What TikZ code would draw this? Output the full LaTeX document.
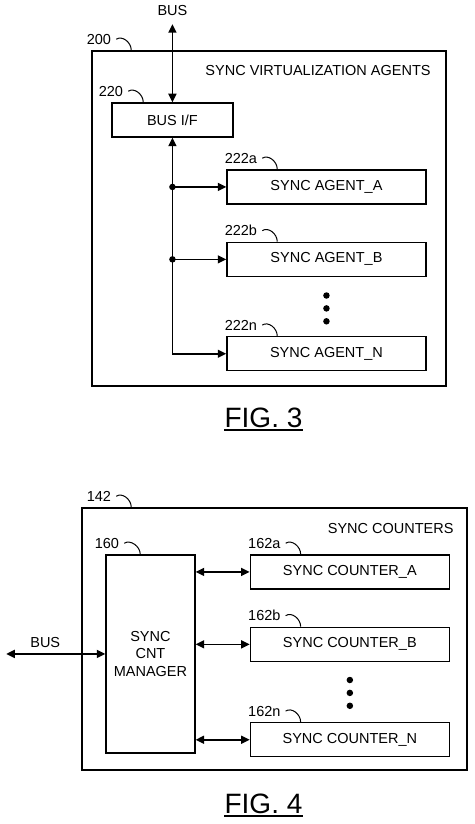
\documentclass[tikz,border=0pt]{standalone}
\usepackage{fontspec}
\setmainfont{Liberation Sans}
\usetikzlibrary{
  positioning,
  arrows.meta
}

\begin{document}
\begin{tikzpicture}[
  x=1pt, y=-1pt,
  every node/.style={font=\fontsize{14.5}{17.5}\selectfont, inner sep=0pt},
  frame/.style={draw, line width=1.5pt},
  block/.style={draw, line width=1.4pt, minimum width=199pt, minimum height=34pt, align=center},
  refnum/.style={anchor=east},
  leader/.style={line width=1pt},
  dot/.style={circle, fill, minimum size=6.5pt},
  fig/.style={font=\fontsize{28}{34}\selectfont},
  arrow/.style={-{Triangle[length=8.5pt,width=8pt]}, line width=1.5pt},
  dbl/.style={{Triangle[length=8.5pt,width=8pt]}-{Triangle[length=8.5pt,width=8pt]}, line width=1.5pt}
]
\useasboundingbox (0,0) rectangle (474,824);

% FIG. 3 frame
\node[frame, minimum width=354pt, minimum height=335pt] (frame3) at (269,218.5) {};
\node[below left=15pt and 16pt of frame3.north east] (title3) {SYNC VIRTUALIZATION AGENTS};

% Bus interface and agents
\node[block, minimum width=121pt, anchor=north west] (busif) at ([xshift=20pt, yshift=-52pt]frame3.north west) {BUS I/F};
\node[block, anchor=north west] (agentA) at ([xshift=135pt, yshift=-119pt]frame3.north west) {SYNC AGENT\_A};
\node[block, below=37pt of agentA] (agentB) {SYNC AGENT\_B};
\node[block, below=59pt of agentB] (agentN) {SYNC AGENT\_N};

% More agents
\node[dot, below=15pt of agentB.south] (more3a) {};
\node[dot, below=6pt of more3a] (more3b) {};
\node[dot, below=6pt of more3b] (more3c) {};

% External bus
\coordinate (bustop) at ([yshift=78pt]busif.north);
\node[above=8pt of bustop] (bus3) {BUS};
\draw[dbl] (bustop) -- (busif.north);

% Internal bus
\draw[dbl] (agentN.west) -| (busif.south);
\node[dot] (jA) at (busif.south |- agentA.west) {};
\node[dot] (jB) at (busif.south |- agentB.west) {};
\draw[arrow] (jA.center) -- (agentA.west);
\draw[arrow] (jB.center) -- (agentB.west);

% Reference numerals
\coordinate (e200) at ([xshift=40pt]frame3.north west);
\node[refnum] (t200) at ([xshift=-20pt, yshift=11pt]e200) {200};
\draw[leader] ([xshift=5pt]t200.east) .. controls +(6,-4) and +(0,-8) .. (e200);
\coordinate (e220) at ([xshift=32pt]busif.north west);
\node[refnum] (t220) at ([xshift=-20pt, yshift=11pt]e220) {220};
\draw[leader] ([xshift=5pt]t220.east) .. controls +(6,-4) and +(0,-8) .. (e220);
\coordinate (e222a) at ([xshift=51pt]agentA.north west);
\node[refnum] (t222a) at ([xshift=-20pt, yshift=11pt]e222a) {222a};
\draw[leader] ([xshift=5pt]t222a.east) .. controls +(6,-4) and +(0,-8) .. (e222a);
\coordinate (e222b) at ([xshift=51pt]agentB.north west);
\node[refnum] (t222b) at ([xshift=-20pt, yshift=11pt]e222b) {222b};
\draw[leader] ([xshift=5pt]t222b.east) .. controls +(6,-4) and +(0,-8) .. (e222b);
\coordinate (e222n) at ([xshift=51pt]agentN.north west);
\node[refnum] (t222n) at ([xshift=-20pt, yshift=11pt]e222n) {222n};
\draw[leader] ([xshift=5pt]t222n.east) .. controls +(6,-4) and +(0,-8) .. (e222n);

% Caption
\node[fig, anchor=base] (fig3) at (263.5,427) {FIG. 3};
\draw[line width=1.6pt] ([yshift=-3pt]fig3.base west) -- ([yshift=-3pt]fig3.base east);

% FIG. 4 frame
\node[frame, minimum width=385pt, minimum height=262pt] (frame4) at (274.5,639) {};
\node[below left=16pt and 14pt of frame4.north east] (title4) {SYNC COUNTERS};

% Manager and counters
\node[block, minimum width=89pt, minimum height=198pt, anchor=north west] (manager) at ([xshift=24pt, yshift=-47pt]frame4.north west) {SYNC\\CNT\\MANAGER};
\node[block, anchor=north west] (cntA) at ([xshift=54pt]manager.north east) {SYNC COUNTER\_A};
\node[block, below=37pt of cntA] (cntB) {SYNC COUNTER\_B};
\node[block, below=60pt of cntB] (cntN) {SYNC COUNTER\_N};

% More counters
\node[dot, below=14.5pt of cntB.south] (more4a) {};
\node[dot, below=6pt of more4a] (more4b) {};
\node[dot, below=6pt of more4b] (more4c) {};

% Links
\draw[dbl] (manager.east |- cntA.west) -- (cntA.west);
\draw[dbl] (manager.east |- cntB.west) -- (cntB.west);
\draw[dbl] (manager.east |- cntN.west) -- (cntN.west);

% External bus
\coordinate (busleft) at ([xshift=-99pt]manager.west);
\node (bus4) at ([xshift=39pt, yshift=11pt]busleft) {BUS};
\draw[dbl] (busleft) -- (manager.west);

% Reference numerals
\coordinate (e142) at ([xshift=50pt]frame4.north west);
\node[refnum] (t142) at ([xshift=-20pt, yshift=11pt]e142) {142};
\draw[leader] ([xshift=5pt]t142.east) .. controls +(6,-4) and +(0,-8) .. (e142);
\coordinate (e160) at ([xshift=35pt]manager.north west);
\node[refnum] (t160) at ([xshift=-21pt, yshift=11pt]e160) {160};
\draw[leader] ([xshift=5pt]t160.east) .. controls +(6,-4) and +(0,-8) .. (e160);
\coordinate (e162a) at ([xshift=51pt]cntA.north west);
\node[refnum] (t162a) at ([xshift=-20pt, yshift=11pt]e162a) {162a};
\draw[leader] ([xshift=5pt]t162a.east) .. controls +(6,-4) and +(0,-8) .. (e162a);
\coordinate (e162b) at ([xshift=51pt]cntB.north west);
\node[refnum] (t162b) at ([xshift=-20pt, yshift=11pt]e162b) {162b};
\draw[leader] ([xshift=5pt]t162b.east) .. controls +(6,-4) and +(0,-8) .. (e162b);
\coordinate (e162n) at ([xshift=51pt]cntN.north west);
\node[refnum] (t162n) at ([xshift=-20pt, yshift=11pt]e162n) {162n};
\draw[leader] ([xshift=5pt]t162n.east) .. controls +(6,-4) and +(0,-8) .. (e162n);

% Caption
\node[fig, anchor=base] (fig4) at (263.5,813) {FIG. 4};
\draw[line width=1.6pt] ([yshift=-3pt]fig4.base west) -- ([yshift=-3pt]fig4.base east);

\end{tikzpicture}
\end{document}
